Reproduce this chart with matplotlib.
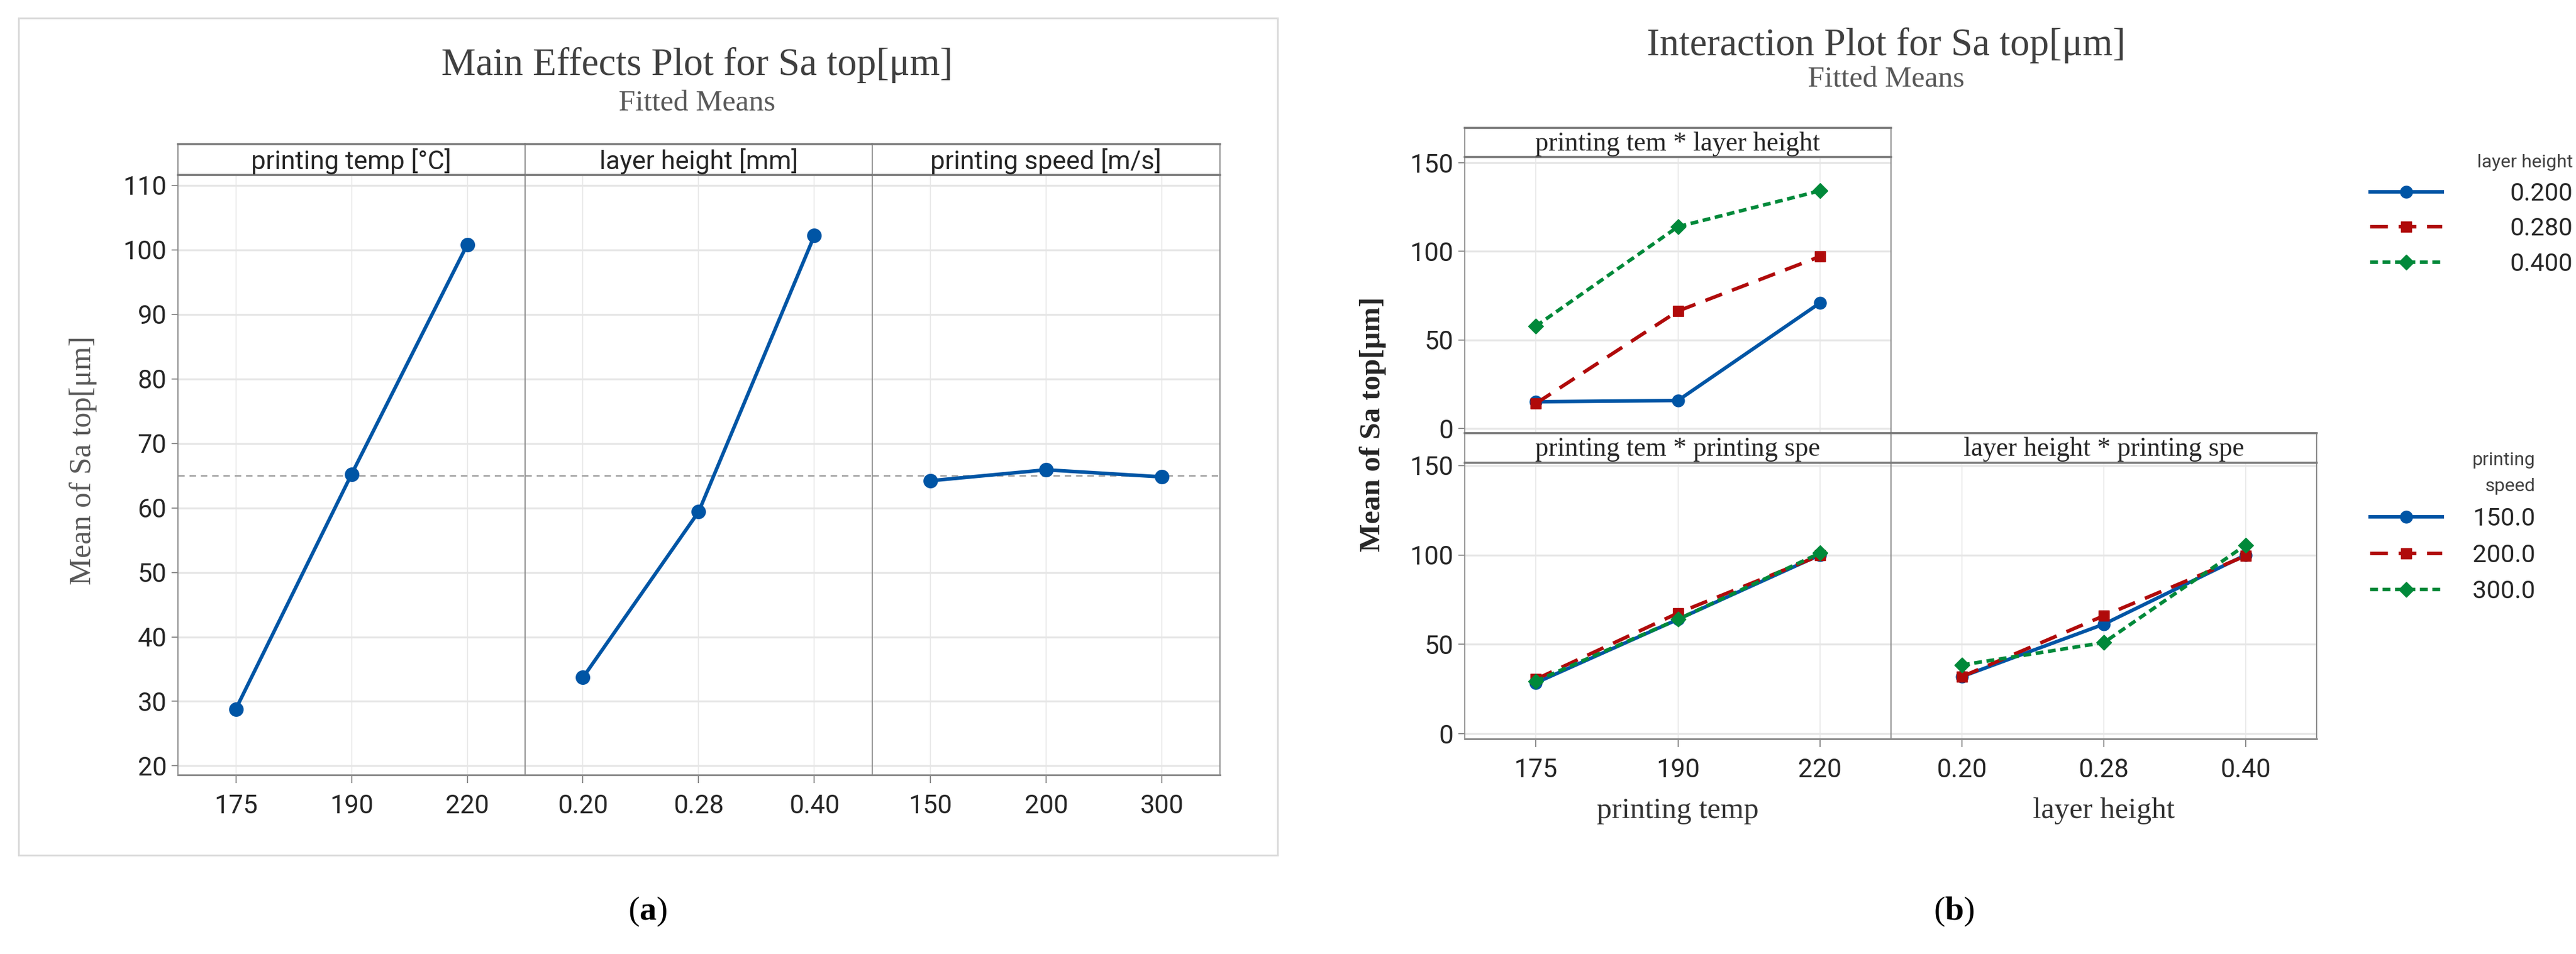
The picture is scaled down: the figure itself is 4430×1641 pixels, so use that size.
import matplotlib
matplotlib.use("Agg")
import matplotlib.pyplot as plt
from matplotlib.patches import Rectangle

W, H = 4430, 1641
DPI = 100

# ---- data ----
temp_levels = ["175", "190", "220"]
layer_levels = ["0.20", "0.28", "0.40"]
speed_levels = ["150", "200", "300"]

main_temp = [28.8, 65.2, 100.8]
main_layer = [33.7, 59.4, 102.2]
main_speed = [64.2, 65.9, 64.8]
grand_mean = 65.0

layer_names = ["0.200", "0.280", "0.400"]
speed_names = ["150.0", "200.0", "300.0"]

# printing temp * layer height  (one row per layer height)
temp_x_layer = [[15.1, 15.8, 70.9],
                [14.1, 66.3, 97.1],
                [57.8, 113.9, 134.2]]
# printing temp * printing speed (one row per speed)
temp_x_speed = [[28.5, 64.0, 100.0],
                [30.5, 67.5, 99.7],
                [29.5, 64.0, 101.0]]
# layer height * printing speed (one row per speed)
layer_x_speed = [[32.0, 61.3, 100.0],
                 [32.0, 66.0, 99.5],
                 [38.5, 51.0, 105.5]]

# ---- styles ----
colors = ["#0055A5", "#B00A0A", "#00893A"]
styles = ["-", (0, (5, 3)), (0, (2.2, 1.3))]
markers = ["o", "s", "D"]
msizes = [15, 13, 13]
LW = 4.4

SANS = ["Roboto", "DejaVu Sans"]
SERIF = ["Liberation Serif", "DejaVu Serif"]
SPINE = "#8C8C8C"
GRID = "#E6E6E6"

plt.rcParams["mathtext.fontset"] = "custom"
plt.rcParams["mathtext.rm"] = "Liberation Serif"
plt.rcParams["mathtext.bf"] = "Liberation Serif:bold"

fig = plt.figure(figsize=(W / DPI, H / DPI), dpi=DPI)


def px_axes(x0, y0, x1, y1):
    return fig.add_axes([x0 / W, 1 - y1 / H, (x1 - x0) / W, (y1 - y0) / H])


def strip(x0, y0, x1, y1, label, family, size):
    s = px_axes(x0, y0, x1, y1)
    s.set_xticks([])
    s.set_yticks([])
    for k in ("top", "bottom"):
        s.spines[k].set_linewidth(2.6)
        s.spines[k].set_color("#7A7A7A")
    for k in ("left", "right"):
        s.spines[k].set_linewidth(1.4)
        s.spines[k].set_color(SPINE)
    s.text(0.5, 0.45, label, transform=s.transAxes, ha="center", va="center",
           family=family, fontsize=size, color="#262626")
    return s


def style_panel(ax, ylim, yticks, xlabels, show_y, show_x, tick_size):
    ax.set_xlim(0.5, 3.5)
    ax.set_ylim(*ylim)
    ax.set_yticks(yticks)
    ax.set_xticks([1, 2, 3])
    ax.set_xticklabels(xlabels if show_x else [])
    if not show_y:
        ax.set_yticklabels([])
    ax.tick_params(axis="y", length=8 if show_y else 0, width=1.4, color=SPINE,
                   labelsize=tick_size, labelcolor="#262626", pad=6)
    ax.tick_params(axis="x", length=10 if show_x else 0, width=1.4, color=SPINE,
                   labelsize=tick_size, labelcolor="#262626", pad=14)
    for lab in ax.get_xticklabels() + ax.get_yticklabels():
        lab.set_family(SANS)
    ax.grid(axis="y", color=GRID, lw=2.4, zorder=0)
    ax.grid(axis="x", color=GRID, lw=1.1, zorder=0)
    ax.set_axisbelow(True)
    for k in ("left", "right", "bottom"):
        ax.spines[k].set_color(SPINE)
        ax.spines[k].set_linewidth(1.4)
    ax.spines["bottom"].set_linewidth(2.2)
    ax.spines["top"].set_visible(False)


# ---------------- (a) main effects ----------------
fig.patches.append(Rectangle((32 / W, 1 - 1471 / H), (2197 - 32) / W, (1471 - 31) / H,
                             transform=fig.transFigure, fill=False,
                             edgecolor="#DADADA", lw=2.2))

a_edges = [306, 903, 1500, 2098]
a_titles = ["printing temp [°C]", "layer height [mm]", "printing speed [m/s]"]
a_levels = [temp_levels, layer_levels, speed_levels]
a_means = [main_temp, main_layer, main_speed]
for i in range(3):
    ax = px_axes(a_edges[i], 301, a_edges[i + 1], 1333)
    style_panel(ax, (18.6, 111.6), range(20, 111, 10), a_levels[i], i == 0, True, 32)
    ax.axhline(grand_mean, color="#A6A6A6", lw=2.0, ls=(0, (4, 3)), zorder=1)
    ax.plot([1, 2, 3], a_means[i], color=colors[0], lw=LW, marker="o", ms=17, zorder=3)
    strip(a_edges[i], 248, a_edges[i + 1], 301, a_titles[i], SANS, 32)

fig.text(1199 / W, 1 - 112 / H, "Main Effects Plot for Sa top[μm]", ha="center", va="center",
         family=SERIF, fontsize=48, color="#404040")
fig.text(1199 / W, 1 - 178 / H, "Fitted Means", ha="center", va="center",
         family=SERIF, fontsize=37, color="#595959")
fig.text(143 / W, 1 - 792 / H, "Mean of Sa top[μm]", ha="center", va="center", rotation=90,
         family=SERIF, fontsize=38, color="#595959")

# ---------------- (b) interaction ----------------
bx = [2519, 3252, 3984]
b_ylim_top = (-2.6, 153.3)
b_ylim_bot = (-2.8, 151.5)

ax_top = px_axes(bx[0], 270, bx[1], 745)
style_panel(ax_top, b_ylim_top, [0, 50, 100, 150], temp_levels, True, False, 32)
lh_lines = []
for j in range(3):
    ln, = ax_top.plot([1, 2, 3], temp_x_layer[j], color=colors[j], ls=styles[j], lw=LW,
                      marker=markers[j], ms=msizes[j], zorder=3)
    lh_lines.append(ln)
strip(bx[0], 220, bx[1], 270, "printing tem * layer height", SERIF, 33)

ax_bl = px_axes(bx[0], 796, bx[1], 1271)
style_panel(ax_bl, b_ylim_bot, [0, 50, 100, 150], temp_levels, True, True, 32)
sp_lines = []
for j in range(3):
    ln, = ax_bl.plot([1, 2, 3], temp_x_speed[j], color=colors[j], ls=styles[j], lw=LW,
                     marker=markers[j], ms=msizes[j], zorder=3)
    sp_lines.append(ln)
strip(bx[0], 745, bx[1], 796, "printing tem * printing spe", SERIF, 33)

ax_br = px_axes(bx[1], 796, bx[2], 1271)
style_panel(ax_br, b_ylim_bot, [0, 50, 100, 150], layer_levels, False, True, 32)
for j in range(3):
    ax_br.plot([1, 2, 3], layer_x_speed[j], color=colors[j], ls=styles[j], lw=LW,
               marker=markers[j], ms=msizes[j], zorder=3)
strip(bx[1], 745, bx[2], 796, "layer height * printing spe", SERIF, 33)

ax_bl.set_xlabel("printing temp", family=SERIF, fontsize=37, color="#333333", labelpad=18)
ax_br.set_xlabel("layer height", family=SERIF, fontsize=37, color="#333333", labelpad=18)

fig.text(3244 / W, 1 - 78 / H, "Interaction Plot for Sa top[μm]", ha="center", va="center",
         family=SERIF, fontsize=48, color="#404040")
fig.text(3244 / W, 1 - 137 / H, "Fitted Means", ha="center", va="center",
         family=SERIF, fontsize=37, color="#595959")
fig.text(2361 / W, 1 - 730 / H, "Mean of Sa top[μm]", ha="center", va="center", rotation=90,
         family=SERIF, fontweight="bold", fontsize=37, color="#262626")

leg1 = fig.legend(lh_lines, layer_names, title="layer height", loc="upper left",
                  bbox_to_anchor=(4054 / W, 1 - 243 / H), frameon=False, borderpad=0,
                  handlelength=2.9, handletextpad=2.7, labelspacing=0.45, alignment="right",
                  prop={"family": SANS, "size": 31},
                  title_fontproperties={"family": SANS, "size": 23})
leg1.get_title().set_color("#404040")
leg2 = fig.legend(sp_lines, speed_names, title="printing\nspeed", loc="upper left",
                  bbox_to_anchor=(4054 / W, 1 - 755 / H), frameon=False, borderpad=0,
                  handlelength=2.9, handletextpad=1.2, labelspacing=0.5, alignment="right",
                  prop={"family": SANS, "size": 31},
                  title_fontproperties={"family": SANS, "size": 23})
leg2.get_title().set_color("#404040")
leg2.get_title().set_multialignment("right")
leg2.get_title().set_linespacing(1.7)
for lg in (leg1, leg2):
    for t in lg.get_texts():
        t.set_color("#262626")

fig.text(1114 / W, 1 - 1567 / H, r"$\mathrm{(}\mathbf{a}\mathrm{)}$", ha="center", va="center",
         fontsize=42, color="black")
fig.text(3360 / W, 1 - 1567 / H, r"$\mathrm{(}\mathbf{b}\mathrm{)}$", ha="center", va="center",
         fontsize=42, color="black")

fig.savefig("out.png", dpi=DPI, facecolor="white")
